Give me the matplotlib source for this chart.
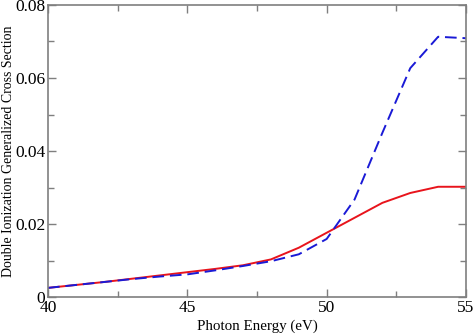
import matplotlib
matplotlib.use("Agg")
import matplotlib.pyplot as plt
from matplotlib.ticker import MultipleLocator, FuncFormatter

energy = [40, 41, 42, 43, 44, 45, 46, 47, 48, 49, 50, 51, 52, 53, 54, 55]
sigma_red = [0.0025, 0.0033, 0.0041, 0.0050, 0.0059, 0.0068, 0.0077, 0.0087,
             0.0103, 0.0135, 0.0176, 0.0217, 0.0258, 0.0285, 0.0302, 0.0302]
sigma_blue = [0.0025, 0.0033, 0.0041, 0.0049, 0.0056, 0.0062, 0.0073, 0.0085,
              0.0098, 0.0117, 0.0159, 0.0267, 0.0450, 0.0627, 0.0713, 0.0709]

plt.rcParams['font.family'] = ['Liberation Serif', 'DejaVu Serif']

fig = plt.figure(figsize=(4.74, 3.34), dpi=100)
ax = fig.add_axes([48 / 474, 1 - 297 / 334, (466 - 48) / 474, (297 - 5) / 334])

ax.plot(energy, sigma_red, color='#e8141c', lw=1.4)
ax.plot(energy, sigma_blue, color='#1a1ad6', lw=1.4, ls=(0, (6, 3)))

ax.set_xlim(40, 55)
ax.set_ylim(0, 0.08)
ax.xaxis.set_major_locator(MultipleLocator(5))
ax.xaxis.set_minor_locator(MultipleLocator(2.5))
ax.yaxis.set_major_locator(MultipleLocator(0.02))
ax.yaxis.set_minor_locator(MultipleLocator(0.01))
ax.yaxis.set_major_formatter(FuncFormatter(lambda v, p: '0' if v == 0 else f'{v:.2f}'))

axis_gray = '#7f7f7f'
for s in ax.spines.values():
    s.set_color(axis_gray)
    s.set_linewidth(1.2)
ax.tick_params(which='both', direction='in', top=True, right=True, color=axis_gray,
               labelsize=12.5, width=1.0, pad=2)
ax.tick_params(which='major', length=6)
ax.tick_params(which='minor', length=4)

ax.set_xlabel('Photon Energy (eV)', fontsize=10.8, labelpad=3)
ax.set_ylabel('Double Ionization Generalized Cross Section', fontsize=10, labelpad=1)
ax.yaxis.set_label_coords(-33 / 418, 0.5)

fig.savefig('out.png', dpi=100)
